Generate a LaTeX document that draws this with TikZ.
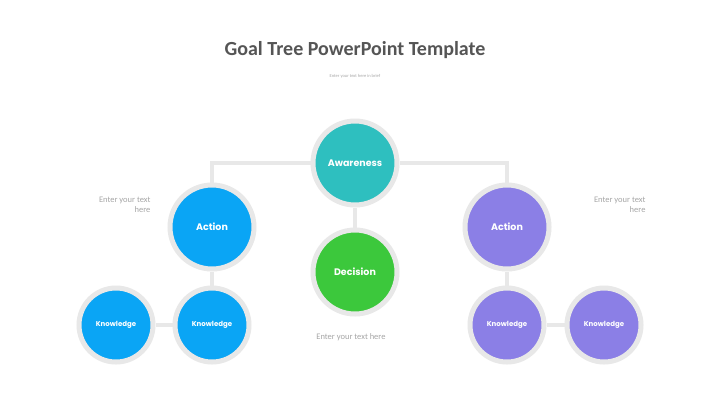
\documentclass[tikz,border=0pt]{standalone}
\usepackage{fontspec}
\setmainfont{Carlito}
\newfontfamily\pop{Poppins}
\definecolor{teal1}{HTML}{2EBFBF}
\definecolor{blue1}{HTML}{0AA5F5}
\definecolor{green1}{HTML}{3CC83C}
\definecolor{purp1}{HTML}{8B7FE6}
\definecolor{ring}{HTML}{E8E8E8}
\definecolor{txt}{HTML}{555555}
\definecolor{lt}{HTML}{A6A6A6}
\begin{document}
\begin{tikzpicture}[x=1pt,y=-1pt,
  big/.style={circle,minimum size=84pt,inner sep=0pt,draw=ring,line width=5pt,text=white,font=\pop\fontsize{9.5}{11}\selectfont\bfseries},
  small/.style={circle,minimum size=74pt,inner sep=0pt,draw=ring,line width=5pt,text=white,font=\pop\fontsize{7}{8}\selectfont\bfseries},
  conn/.style={ring,line width=3.5pt},
  note/.style={lt,font=\fontsize{8.5}{10}\selectfont}]
\useasboundingbox[fill=white] (0,0) rectangle (711,400);
\node[txt,font=\fontsize{20}{24}\selectfont\bfseries] (title) at (355,50) {Goal Tree PowerPoint Template};
\node[lt,font=\fontsize{4.5}{5}\selectfont] (sub) at (355,76) {Enter your text here in brief};
\coordinate (L) at (212,163);
\coordinate (R) at (507,163);
\node[big,fill=teal1] (aw) at (355,163) {Awareness};
\node[big,fill=green1] (de) at (355,272) {Decision};
\node[big,fill=blue1] (al) at (212,227) {Action};
\node[big,fill=purp1] (ar) at (507,227) {Action};
\node[small,fill=blue1] (k1) at (116,325) {Knowledge};
\node[small,fill=blue1] (k2) at (212,325) {Knowledge};
\node[small,fill=purp1] (k3) at (507,325) {Knowledge};
\node[small,fill=purp1] (k4) at (604,325) {Knowledge};
\begin{scope}[on background layer/.style={}]
\end{scope}
\draw[conn] (aw.west) -- (L) -- (al.north);
\draw[conn] (aw.east) -- (R) -- (ar.north);
\draw[conn] (aw.south) -- (de.north);
\draw[conn] (al.south) -- (k2.north);
\draw[conn] (ar.south) -- (k3.north);
\draw[conn] (k1.east) -- (k2.west);
\draw[conn] (k3.east) -- (k4.west);
\node[note,align=right,anchor=north east] (n1) at (154,194) {Enter your text\\here};
\node[note,align=right,anchor=north east] (n2) at (649,194) {Enter your text\\here};
\node[note] (n3) at (351,337) {Enter your text here};
\end{tikzpicture}
\end{document}
